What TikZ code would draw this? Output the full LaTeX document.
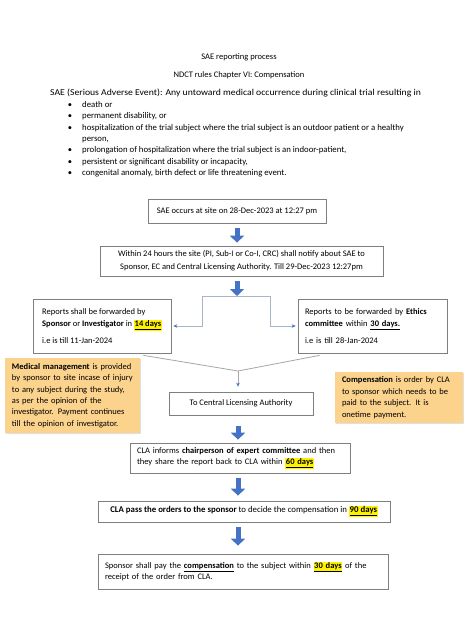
\documentclass[tikz,border=0pt]{standalone}
\usepackage{fontspec}
\setmainfont{Carlito}
\usetikzlibrary{arrows.meta,calc,shadows}
\definecolor{arrblue}{HTML}{4472C4}
\definecolor{boxgray}{HTML}{7F7F7F}
\definecolor{orangefill}{HTML}{FBD38D}
\definecolor{connline}{HTML}{A9B6C6}
\definecolor{vline}{HTML}{A6A6A6}
\newcommand\myhl[1]{{\setlength{\fboxsep}{0.6pt}\colorbox{yellow}{#1}}}
\tikzset{
  box/.style={draw=boxgray, line width=0.7pt, fill=white, inner xsep=7pt, inner ysep=0pt, align=left},
  cbox/.style={draw=boxgray, line width=0.7pt, fill=white, inner sep=0pt, align=center},
  obox/.style={fill=orangefill, drop shadow={opacity=0.25,shadow xshift=1.2pt,shadow yshift=-1.2pt}, inner xsep=7pt, inner ysep=0pt, align=left},
  blockarrow/.style={draw=arrblue, line width=5pt, -{Triangle[width=14pt,length=7pt]}},
  conn/.style={draw=connline, line width=0.8pt},
  vconn/.style={draw=vline, line width=0.8pt},
  smallarr/.style={-{Stealth[length=4pt,width=3.5pt,color=arrblue]}},
  plain/.style={inner sep=0pt},
  litem/.style={inner sep=0pt, anchor=base west, font=\fontsize{8.75}{11.3}\selectfont}
}
\begin{document}
\begin{tikzpicture}[x=1pt,y=-1pt, font=\fontsize{8.5}{11.3}\selectfont]
\useasboundingbox (0,0) rectangle (474,619);
\fill[white] (0,0) rectangle (474,619);

% header
\node[plain] (t1) at (239,57) {SAE reporting process};
\node[plain] (t2) at (239,75) {NDCT rules Chapter VI: Compensation};
\node[plain, anchor=base west, font=\fontsize{9}{11.3}\selectfont] (def) at (50,95) {\scalebox{1.08}[1]{SAE (Serious Adverse Event): Any untoward medical occurrence during clinical trial resulting in}};
\foreach \y/\n in {107.5/1,118.8/2,130.1/3,152.7/4,164/5,175.3/6}{
  \node[plain, anchor=base] (bul\n) at (70,\y) {•};
}
\node[litem] (i1) at (82,107.5) {death or};
\node[litem] (i2) at (82,118.8) {permanent disability, or};
\node[litem] (i3) at (82,130.1) {hospitalization of the trial subject where the trial subject is an outdoor patient or a healthy};
\node[litem] (i3b) at (82,141.4) {person,};
\node[litem] (i4) at (82,152.7) {prolongation of hospitalization where the trial subject is an indoor-patient,};
\node[litem] (i5) at (82,164) {persistent or significant disability or incapacity,};
\node[litem] (i6) at (82,175.3) {congenital anomaly, birth defect or life threatening event.};

% boxes
\node[cbox, minimum width=178pt, minimum height=24pt] (b1) at (237,211) {SAE occurs at site on 28-Dec-2023 at 12:27 pm};
\node[cbox, minimum width=283pt, minimum height=30pt, font=\fontsize{8.5}{13}\selectfont] (b2) at (241.5,261)
  {Within 24 hours the site (PI, Sub-I or Co-I, CRC) shall notify about SAE to\\ Sponsor, EC and Central Licensing Authority. Till 29-Dec-2023 12:27pm};
\node[box, minimum width=138pt, minimum height=54pt, inner xsep=0pt, font=\fontsize{8.5}{12.5}\selectfont] (lbox) at (102,326)
  {Reports shall be forwarded by\\ \textbf{Sponsor} or \textbf{Investigator} in \myhl{\textbf{\underline{14 days}}}\\[4pt] i.e is till 11-Jan-2024};
\node[box, minimum width=149pt, minimum height=54pt, text width=135pt, font=\fontsize{8.5}{12.5}\selectfont] (rbox) at (372.5,326)
  {Reports to be forwarded by \textbf{Ethics}\\ \textbf{committee} within \textbf{\underline{30 days.}}\\[4pt] i.e is till 28-Jan-2024};
\node[obox, minimum width=135pt, minimum height=75pt, text width=121pt] (obl) at (72.5,395.5)
  {\textbf{Medical management} is provided\\ by sponsor to site incase of injury\\ to any subject during the study,\\ as per the opinion of the\\ investigator. Payment continues\\ till the opinion of investigator.};
\node[obox, minimum width=128pt, minimum height=51pt, text width=114pt, font=\fontsize{8.5}{11.6}\selectfont] (obr) at (399,397.5)
  {\textbf{Compensation} is order by CLA\\ to sponsor which needs to be\\ paid to the subject. It is\\ onetime payment.};
\node[cbox, minimum width=144pt, minimum height=23pt] (cla) at (241,403.5) {To Central Licensing Authority};
\node[box, minimum width=220pt, minimum height=30pt, text width=206pt] (b5) at (240,458)
  {CLA informs \textbf{chairperson of expert committee} and then\\ they share the report back to CLA within \myhl{\textbf{\underline{60 days}}}};
\node[cbox, minimum width=292pt, minimum height=21pt, font=\fontsize{8.8}{11.3}\selectfont] (b6) at (244,511.5)
  {\textbf{CLA pass the orders to the sponsor} to decide the compensation in \myhl{\textbf{\underline{90 days}}}};
\node[box, minimum width=290pt, minimum height=35pt, text width=276pt] (b7) at (243,571.5)
  {Sponsor shall pay the \textbf{\underline{compensation}} to the subject within \myhl{\textbf{\underline{30 days}}} of the\\ receipt of the order from CLA.};

% connectors
\coordinate (col) at (238,0);
\coordinate (split) at (237,296);
\coordinate (vm) at (238,371);
\draw[blockarrow, shorten <=5pt, shorten >=3pt] (b1.south) -- (b1.south |- b2.north);
\draw[blockarrow, shorten <=5pt] (b2.south -| split) -- (split);
\draw[conn, smallarr, shorten >=2pt] (split) -- ++(-35,0) |- (lbox.east);
\draw[conn, smallarr, shorten >=2pt] (split) -- ++(33,0) |- (rbox.west);
\draw[vconn] ($(lbox.south east)+(-28,2)$) -- (vm) -- ($(rbox.south west)+(22,2)$);
\draw[vconn, smallarr, shorten >=5pt] (vm) -- (vm |- cla.north);
\draw[blockarrow, shorten <=11pt, shorten >=3pt] (cla.south -| col) -- (b5.north -| col);
\draw[blockarrow, shorten <=5pt, shorten >=5pt] (b5.south -| col) -- (b6.north -| col);
\draw[blockarrow, shorten <=5pt, shorten >=8pt] (b6.south -| col) -- (b7.north -| col);
\end{tikzpicture}
\end{document}
